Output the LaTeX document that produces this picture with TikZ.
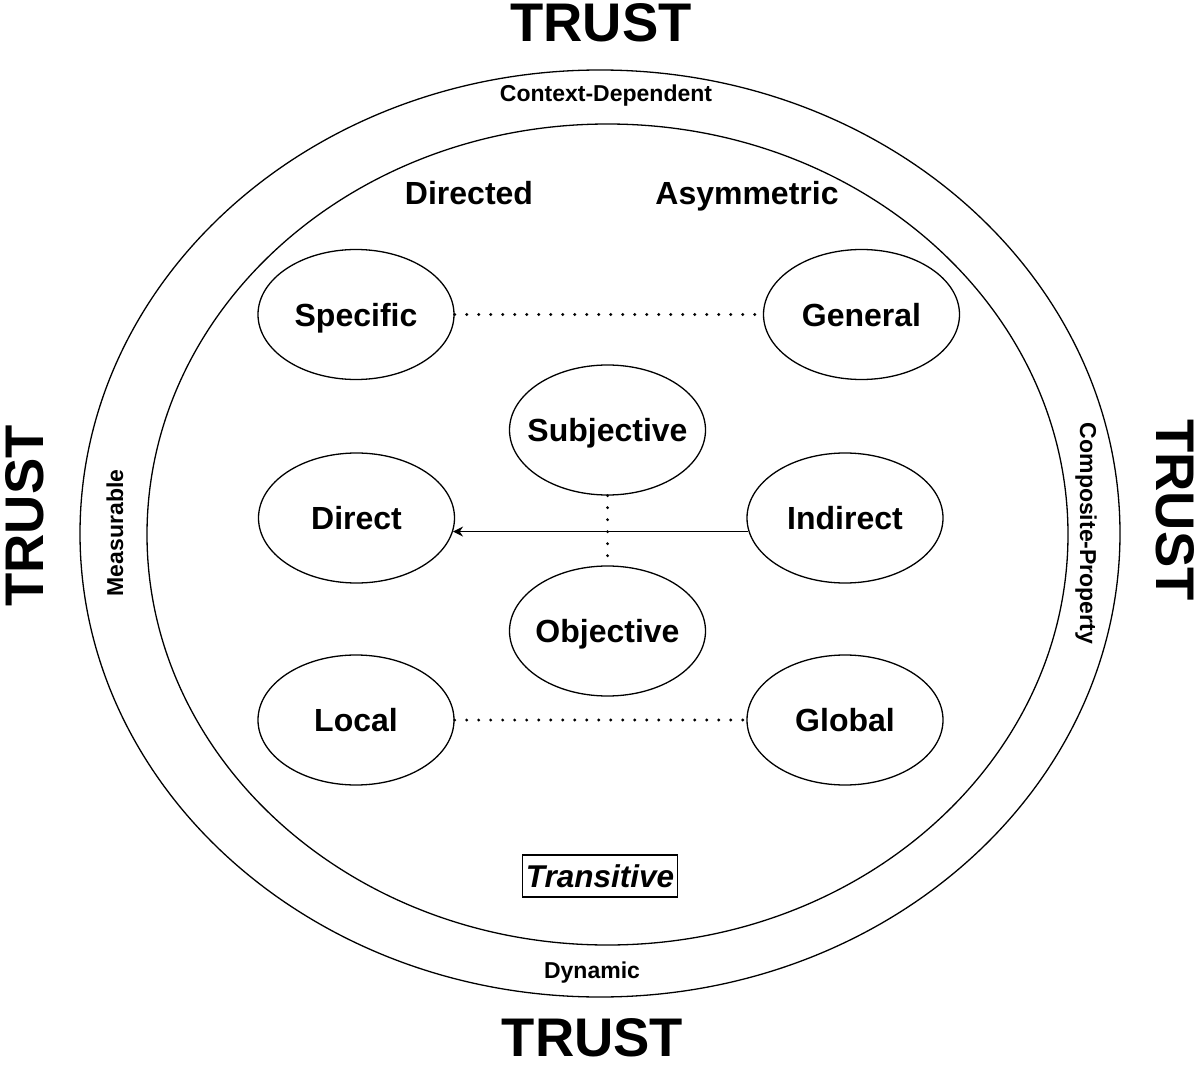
\documentclass[tikz,border=0pt]{standalone}
\usepackage{fontspec}
\setmainfont{Liberation Sans}
\usetikzlibrary{shapes.geometric,arrows.meta}
\newcommand\zw[1]{\makebox[0pt]{#1}}
\tikzset{
  ring/.style={ellipse, draw, line width=0.65pt, inner sep=0pt},
  oval/.style={ellipse, draw, line width=0.65pt, inner sep=0pt,
    minimum width=98pt, minimum height=65pt,
    font=\bfseries\fontsize{16}{19}\selectfont, text height=11.5pt, text depth=0pt},
  biglbl/.style={anchor=base, inner sep=0pt, font=\bfseries\fontsize{27.2}{30}\selectfont},
  midlbl/.style={anchor=base, inner sep=0pt, font=\bfseries\fontsize{16}{19}\selectfont},
  smalllbl/.style={anchor=base, inner sep=0pt, font=\bfseries\fontsize{11.5}{13}\selectfont},
  dotline/.style={line width=1.6pt, dash pattern=on 0pt off 6pt, line cap=round},
  arrowline/.style={line width=0.65pt, -{Stealth[length=5pt,width=5pt]}}
}
\begin{document}
\begin{tikzpicture}[x=0.5pt,y=-0.5pt]
\useasboundingbox (0,0) rectangle (1200,1065);
% rings
\node[ring, minimum width=520pt, minimum height=463.5pt] (outer) at (600,533.5) {};
\node[ring, minimum width=460.5pt, minimum height=410.5pt] (inner) at (607.5,534.5) {};
% TRUST labels
\node[biglbl] (ttop) at (601,42) {TRUST};
\node[biglbl] (tbot) at (592.5,1056) {TRUST};
\node[biglbl, rotate=90] (tleft) at (43,516) {TRUST};
\node[biglbl, rotate=-90] (tright) at (1156,510) {TRUST};
% ring labels
\node[smalllbl] (ctx) at (606,102) {Context-Dependent};
\node[smalllbl] (dyn) at (592,978) {Dynamic};
\node[smalllbl, rotate=90] (meas) at (123,533) {Measurable};
\node[smalllbl, rotate=-90] (comp) at (1080,533.5) {Composite-Property};
% inner labels
\node[midlbl] (dird) at (469,204.5) {Directed};
\node[midlbl] (asym) at (747,204.5) {Asymmetric};
% ovals
\node[oval] (spec) at (356,314.5) {\zw{Specific}};
\node[oval] (gen) at (861.5,314.5) {\zw{General}};
\node[oval] (subj) at (607.5,430) {\zw{Subjective}};
\node[oval] (dir) at (356.5,518) {\zw{Direct}};
\node[oval] (ind) at (845,518) {\zw{Indirect}};
\node[oval] (obj) at (607.5,631) {\zw{Objective}};
\node[oval] (loc) at (356,720) {\zw{Local}};
\node[oval] (glob) at (845,720) {\zw{Global}};
% transitive box
\node[draw, line width=0.6pt, inner xsep=1.75pt, inner ysep=0pt, minimum height=21pt,
  text height=11.5pt, text depth=0pt,
  font=\bfseries\itshape\fontsize{15.75}{18}\selectfont] (trans) at (600,876) {Transitive};
% connectors
\draw[dotline] (spec) -- (gen);
\draw[dotline] (subj) -- (obj);
\draw[dotline] (loc) -- (glob);
\draw[arrowline] (ind.188) -- (dir.-8);
\end{tikzpicture}
\end{document}
